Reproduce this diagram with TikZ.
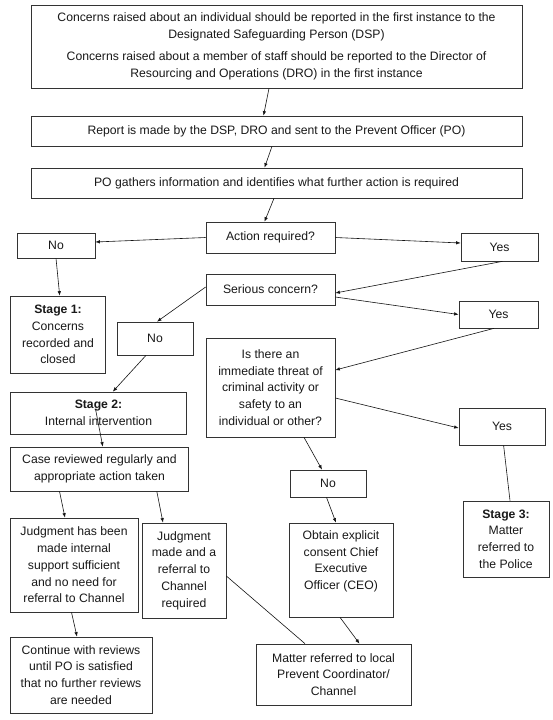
\documentclass[tikz,border=0pt]{standalone}
\usepackage{fontspec}
\setmainfont{Liberation Sans}
\usepackage{xcolor}
\usetikzlibrary{arrows.meta}

\begin{document}
\begin{tikzpicture}[x=1pt,y=-1pt,
  box/.style={draw=boxColor,line width=0.7pt,inner sep=0pt,align=center,text=textColor,
    font=\fontsize{12.2}{16.8}\selectfont},
  flow/.style={draw=drawColor,line width=0.6pt,-{Latex[length=4.5pt,width=3.5pt]}},
  link/.style={draw=drawColor,line width=0.6pt}]
\definecolor{fillColor}{RGB}{255,255,255}
\definecolor{boxColor}{RGB}{51,51,51}
\definecolor{drawColor}{RGB}{20,20,20}
\definecolor{textColor}{RGB}{25,25,25}
\path[use as bounding box,fill=fillColor] (0,0) rectangle (552,720);

% boxes
\node[box,minimum width=491,minimum height=83] (raised) at (276.5,46.5) {Concerns raised about an individual should be reported in the first instance to the\\Designated Safeguarding Person (DSP)\\[5pt]Concerns raised about a member of staff should be reported to the Director of\\Resourcing and Operations (DRO) in the first instance};
\node[box,minimum width=491,minimum height=30] (report) at (276.5,131) {Report is made by the DSP, DRO and sent to the Prevent Officer (PO)};
\node[box,minimum width=491,minimum height=30] (gather) at (276.5,183) {PO gathers information and identifies what further action is required};
\node[box,minimum width=129,minimum height=31] (action) at (270.5,237.5) {Action required?};
\node[box,minimum width=78,minimum height=25] (noA) at (56,245.5) {No};
\node[box,minimum width=77,minimum height=28] (yesA) at (499.5,247) {Yes};
\node[box,minimum width=95,minimum height=77] (stageI) at (58,334.5) {\textbf{Stage 1:}\\Concerns\\recorded and\\closed};
\node[box,minimum width=129,minimum height=31] (serious) at (270.5,289.5) {Serious concern?};
\node[box,minimum width=79,minimum height=27] (yesB) at (498.5,314.5) {Yes};
\node[box,minimum width=76,minimum height=33] (noB) at (155,338.5) {No};
\node[box,minimum width=129,minimum height=99] (threat) at (270.5,387.5) {Is there an\\immediate threat of\\criminal activity or\\safety to an\\individual or other?};
\node[box,minimum width=176,minimum height=42] (stageII) at (98.5,413) {\textbf{Stage 2:}\\Internal intervention};
\node[box,minimum width=178,minimum height=44] (review) at (99.5,469) {Case reviewed regularly and\\appropriate action taken};
\node[box,minimum width=86,minimum height=37] (yesC) at (502,426.5) {Yes};
\node[box,minimum width=76,minimum height=27] (noC) at (328,483.5) {No};
\node[box,minimum width=86,minimum height=76] (stageIII) at (506,539) {\textbf{Stage 3:}\\Matter\\referred to\\the Police};
\node[box,minimum width=104,minimum height=94,text depth=20pt] (consent) at (341,570) {Obtain explicit\\consent Chief\\Executive\\Officer (CEO)};
\node[box,minimum width=128,minimum height=94] (support) at (74,565) {Judgment has been\\made internal\\support sufficient\\and no need for\\referral to Channel};
\node[box,minimum width=84,minimum height=95] (channel) at (184,570.5) {Judgment\\made and a\\referral to\\Channel\\required};
\node[box,minimum width=155,minimum height=61] (coord) at (333.5,674.5) {Matter referred to local\\Prevent Coordinator/\\Channel};
\node[box,minimum width=142,minimum height=76] (continue) at (81,675) {Continue with reviews\\until PO is satisfied\\that no further reviews\\are needed};

% connectors
\path[flow] ([xshift=-7.5]raised.south) -- ([xshift=-13]report.north);
\path[flow] ([xshift=-4.5]report.south) -- ([xshift=-12]gather.north);
\path[flow] ([xshift=-2.5]gather.south) -- ([xshift=-6]action.north);
\path[flow] (action.west) -- ([yshift=3.5]noA.east);
\path[flow] (action.east) -- ([yshift=4]yesA.west);
\path[flow] (noA.south) -- ([xshift=1.7]stageI.north);
\path[flow] ([xshift=3]yesA.south) -- ([yshift=-3.5]serious.east);
\path[flow] ([yshift=-7.5]serious.east) -- (yesB.west);
\path[flow] ([yshift=2.5]serious.west) -- ([xshift=2]noB.north);
\path[flow] ([xshift=-4.5]yesB.south) -- ([yshift=17.5]threat.east);
\path[flow] ([xshift=-9]noB.south) -- ([xshift=14.3]stageII.north);
\path[flow] ([xshift=-3,yshift=4]stageII.center) -- ([xshift=3.3]review.north);
\path[flow] ([yshift=-10.5]threat.east) -- ([yshift=-1.5]yesC.west);
\path[flow] ([xshift=33.5]threat.south) -- ([xshift=-6]noC.north);
\path[link] ([xshift=1.6]yesC.south) -- ([xshift=4]stageIII.north);
\path[flow] ([xshift=-1.5]noC.south) -- ([xshift=-5]consent.north);
\path[flow] ([xshift=-40]review.south) -- ([xshift=-9]support.north);
\path[flow] ([xshift=57.3]review.south) -- ([xshift=-21]channel.north);
\path[link] ([yshift=-5.5]channel.east) -- ([xshift=-28.5]coord.north);
\path[flow] ([xshift=-1]consent.south) -- ([xshift=26]coord.north);
\path[flow] ([xshift=-2.5]support.south) -- ([xshift=-4]continue.north);
\end{tikzpicture}
\end{document}
